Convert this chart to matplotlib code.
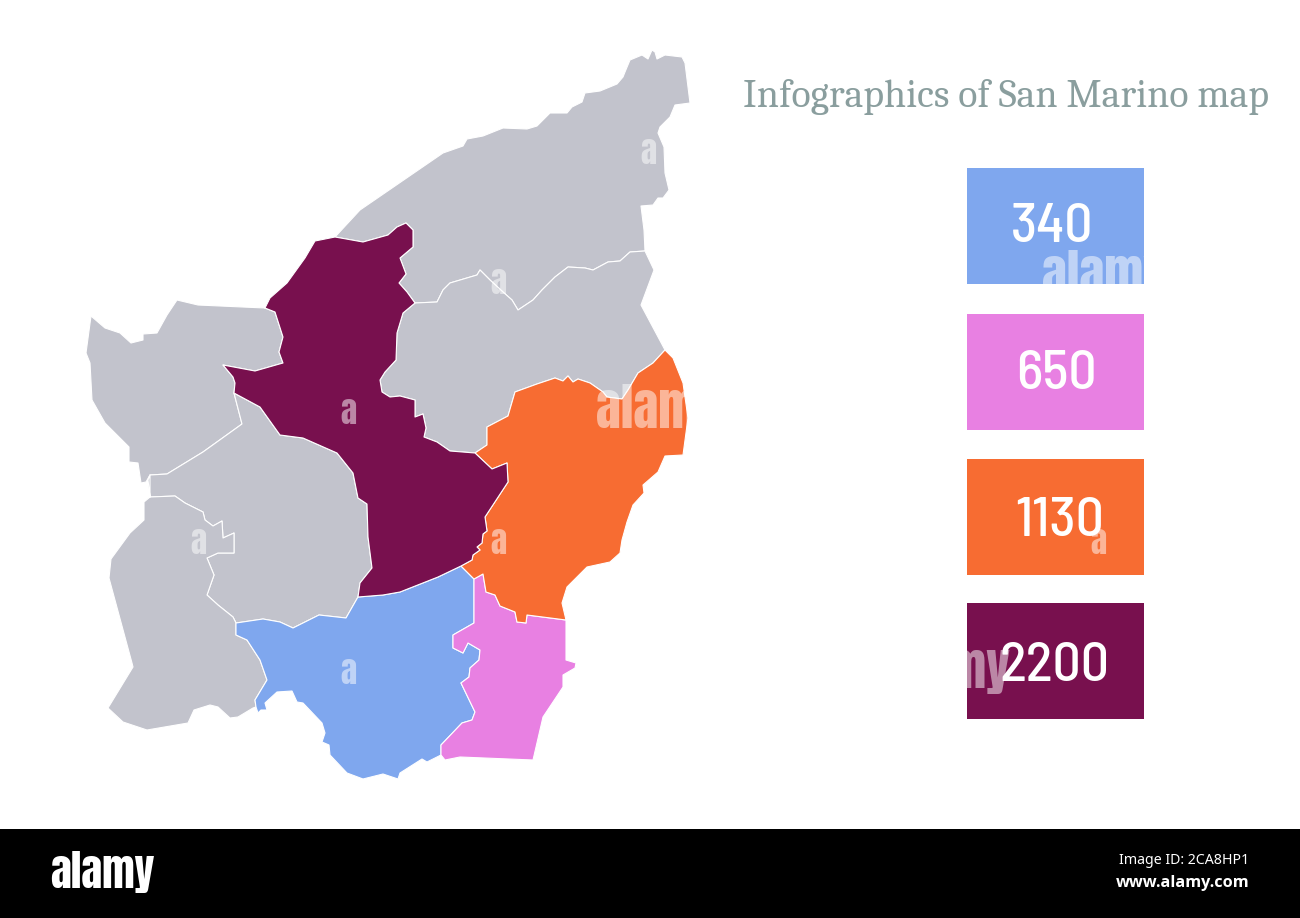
from matplotlib import pyplot as plt

# tile values and colours
values = ['340', '650', '1130', '2200']
tile_colors = ['#7FA7EE', '#E880E2', '#F76C32', '#78104E']
tile_tops = [168, 314, 459, 603]
label_x = [1052, 1056, 1060, 1054]
label_y = [228, 375, 522, 667]
title = 'Infographics of San Marino map'

gray = '#C2C3CC'

# outlines of the municipalities (x, y with y going down)
north_coast = [(335,237),(360,210),(443,153),(463,146),(467,139),(483,136),(503,128),(527,129),(537,126),
    (550,113),(567,113),(572,107),(582,102),(585,93),(600,91),(617,84),(623,77),(625,72),(630,60),(642,55),
    (648,59),(652,50),(655,52),(657,59),(665,55),(682,57),(685,63),(690,103),(675,105),(670,117),(660,127),
    (658,133),(664,147),(665,173),(669,190),(663,198),(658,198),(653,205),(641,206),(644,230),(645,251)]
north_mid = [(645,251),(630,252),(620,261),(608,262),(593,270),(585,268),(568,267),(555,277),(542,290),
    (533,300),(518,310),(512,300),(503,292),(490,280),(480,270),(477,275),(450,283),(443,290),(437,302),(415,303)]
north_maroon = [(415,303),(407,292),(399,283),(406,274),(400,258),(413,247),(413,230),(406,223),(397,227),
    (388,235),(363,242),(335,237)]
mid_maroon = [(415,303),(403,313),(397,333),(396,360),(385,372),(380,380),(382,392),(390,397),(400,396),
    (415,400),(415,417),(423,414),(426,428),(424,437),(437,442),(450,451),(475,453)]
mid_orange = [(475,453),(487,445),(487,427),(508,416),(515,392),(537,384),(555,378),(563,381),(568,376),
    (573,382),(578,379),(590,383),(603,392),(607,397),(622,399),(628,390),(638,373),(653,363),(665,350)]
mid_coast = [(665,350),(641,305),(654,270),(645,251)]
orange_coast = [(665,350),(673,358),(683,383),(688,418),(683,455),(665,456),(658,472),(643,485),(644,493),
    (633,505),(627,522),(622,540),(620,553),(610,562),(587,567),(567,587),(562,603),(566,620)]
orange_pink = [(566,620),(527,615),(526,623),(517,622),(515,612),(500,606),(495,595),(486,592),(483,574),(474,579)]
orange_blue = [(474,579),(461,566)]
orange_maroon = [(461,566),(472,560),(473,555),(480,550),(477,547),(482,543),(483,534),(487,531),(485,517),
    (508,482),(507,463),(492,469),(475,453)]
maroon_west = [(335,237),(315,241),(305,258),(287,283),(270,298),(265,308),(275,312),(283,337),(279,352),
    (283,363),(255,371),(223,365),(233,377),(235,383),(234,393)]
maroon_center = [(234,393),(260,407),(280,435),(303,438),(337,453),(353,473),(358,498),(367,504),(368,537),
    (372,568),(360,583),(358,597)]
maroon_blue = [(358,597),(383,595),(400,592),(438,577),(461,566)]
west_top = [(265,308),(198,305),(177,300),(167,315),(157,333),(143,334),(143,340),(131,343),(120,333),
    (105,328),(91,316),(86,353),(90,363),(92,400),(105,423),(129,447),(129,462),(138,463),(141,483),(146,482),(150,475)]
west_center = [(150,475),(167,474),(203,452),(242,424),(234,393)]
center_south = [(150,475),(148,480),(150,497),(175,496),(185,503),(203,512),(205,520),(213,526),(222,521),
    (223,538),(234,533),(234,553),(218,553),(207,558),(214,575),(207,595),(218,605),(233,617),(236,623)]
center_blue = [(236,623),(263,619),(280,622),(293,628),(319,615),(346,618),(358,597)]
south_coast = [(150,497),(144,502),(144,520),(130,533),(111,559),(109,578),(132,663),(133,667),(108,708),
    (123,722),(147,730),(188,723),(194,710),(210,705),(218,707),(230,718),(238,717),(253,708),(256,707)]
south_blue = [(256,707),(255,700),(267,680),(260,660),(247,640),(236,635),(236,623)]
blue_pink = [(474,579),(474,623),(453,635),(453,648),(463,653),(468,643),(480,650),(479,660),(470,668),
    (469,677),(461,683),(475,712),(472,720),(462,723),(441,745),(441,755)]
blue_coast = [(441,755),(427,762),(422,759),(400,773),(398,779),(383,774),(363,779),(347,773),(330,755),
    (329,745),(322,742),(325,733),(322,723),(303,703),(297,702),(292,691),(277,692),(265,703),(267,710),
    (261,710),(258,713),(256,707)]
pink_coast = [(566,620),(566,660),(576,663),(575,668),(563,675),(563,687),(543,717),(533,760),(460,757),
    (445,760),(441,755)]

regions = [
    (north_coast + north_mid + north_maroon, gray),
    (mid_maroon + mid_orange + mid_coast + north_mid, gray),
    (west_top + west_center + maroon_west[::-1], gray),
    (center_south + center_blue + maroon_center[::-1] + west_center[::-1], gray),
    (south_coast + south_blue + center_south[::-1], gray),
    (center_blue + maroon_blue + orange_blue[::-1] + blue_pink + blue_coast + south_blue, tile_colors[0]),
    (orange_pink + blue_pink + pink_coast[::-1], tile_colors[1]),
    (orange_coast + orange_pink + orange_blue + orange_maroon + mid_orange, tile_colors[2]),
    (maroon_west + maroon_center + maroon_blue + orange_maroon + mid_maroon[::-1] + north_maroon, tile_colors[3]),
]

# the stock photo watermark
wm_small = [(348,411),(648,151),(498,281),(198,541),(348,671),(498,541),(1098,541)]
wm_big = [(596,428),(1042,294),(885,688)]
logo_font = ['Anton', 'Barlow Condensed', 'Liberation Sans']
digit_font = ['Barlow Semi Condensed', 'Roboto']
title_font = ['Caladea', 'Liberation Serif']

fig = plt.figure(figsize=(13, 9.18), dpi=100)
ax = fig.add_axes([0, 0, 1, 1])
ax.set_xlim(0, 1300)
ax.set_ylim(918, 0)
ax.axis('off')

for outline, color in regions:
    ax.fill([p[0] for p in outline], [p[1] for p in outline], facecolor=color, edgecolor='white',
        linewidth=0.8, joinstyle='round', zorder=2)

ax.text(1006, 97, title, family=title_font, fontsize=28.6, color='#8A9E9E', ha='center', va='center')

for val, color, top, lx, ly in zip(values, tile_colors, tile_tops, label_x, label_y):
    ax.bar(1055.5, 116, width=177, bottom=top, color=color, zorder=2)
    ax.text(lx, ly, val, family=digit_font, weight=500, fontsize=40, color='white', ha='center', va='center', zorder=4)

for x, y in wm_small:
    ax.text(x, y, 'a', family=logo_font, fontsize=24, color='white', alpha=0.5, ha='center', va='center', zorder=3)
for x, y in wm_big:
    ax.text(x, y, 'alamy', family=logo_font, fontsize=37, color='white', alpha=0.5, ha='left', va='baseline', zorder=3)

# footer
ax.bar(650, 89, width=1300, bottom=829, color='black', zorder=5)
ax.text(50, 888, 'alamy', family=logo_font, fontsize=31, color='white', ha='left', va='baseline', zorder=6)
ax.text(1184, 860, 'Image ID: 2CA8HP1', family='Noto Sans', fontsize=10.2, color='white', ha='center', va='center', zorder=6)
ax.text(1182.5, 883, 'www.alamy.com', family='Open Sans', weight='bold', fontsize=11.7, color='white', ha='center', va='center', zorder=6)

fig.savefig('out.png', dpi=100)
